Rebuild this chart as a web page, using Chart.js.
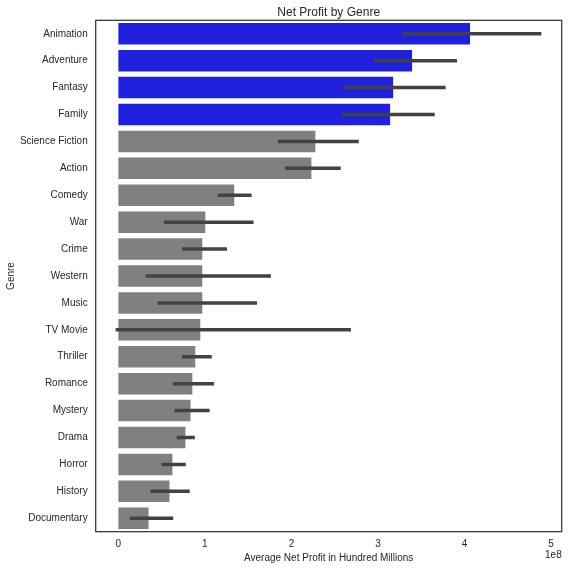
<!DOCTYPE html>
<html>
<head>
<meta charset="utf-8">
<script src="https://cdn.jsdelivr.net/npm/chart.js@4.4.1/dist/chart.umd.min.js"></script>
<style>
  html, body { margin: 0; padding: 0; background: #fff; }
  #wrap { width: 568px; height: 568px; }
</style>
</head>
<body>
<div id="wrap"><canvas id="chart" width="568" height="568"></canvas></div>
<script>
const genres = [
  "Animation", "Adventure", "Fantasy", "Family", "Science Fiction", "Action",
  "Comedy", "War", "Crime", "Western", "Music", "TV Movie", "Thriller",
  "Romance", "Mystery", "Drama", "Horror", "History", "Documentary",
];
// average net profit per genre
const avgProfit = [
  406500000, 339500000, 317600000, 314100000, 227700000, 223100000,
  133900000, 100500000, 97000000, 97000000, 97000000, 94700000, 88900000,
  85500000, 83400000, 77500000, 62500000, 59100000, 34900000,
];
// confidence interval ends
const ciLow = [
  327900000, 295600000, 260700000, 258300000, 184800000, 192900000,
  115200000, 53100000, 73900000, 32000000, 45700000, -2800000, 73900000,
  63300000, 65400000, 67900000, 50300000, 37700000, 13500000,
];
const ciHigh = [
  488500000, 391000000, 377900000, 365300000, 277500000, 256600000,
  153600000, 155900000, 125200000, 175900000, 159900000, 268400000, 107600000,
  110200000, 105100000, 88000000, 77500000, 82100000, 63000000,
];
const highlighted = ["Animation", "Adventure", "Fantasy", "Family"];
const xTicks = [0, 1, 2, 3, 4, 5];

const ink = "#262626";
const font = "'Liberation Sans', Arial, sans-serif";

const frame = {
  id: "frame",
  afterDatasetsDraw(chart) {
    const { ctx, chartArea: a } = chart;
    ctx.save();
    ctx.strokeStyle = "#333333";
    ctx.lineWidth = 1.25;
    ctx.strokeRect(a.left, a.top, a.right - a.left, a.bottom - a.top);
    ctx.restore();
  },
  afterDraw(chart) {
    const { ctx, chartArea: a } = chart;
    ctx.save();
    ctx.fillStyle = ink;
    ctx.font = `10px ${font}`;
    ctx.textAlign = "right";
    ctx.textBaseline = "middle";
    ctx.fillText("1e8", a.right, 555);
    ctx.restore();
  },
};

new Chart(document.getElementById("chart"), {
  type: "bar",
  data: {
    labels: genres,
    datasets: [
      {
        label: "ci",
        data: genres.map((g, i) => [ciLow[i], ciHigh[i]]),
        backgroundColor: "#424242",
        barThickness: 2.8,
        grouped: false,
      },
      {
        label: "Average Net Profit",
        data: avgProfit,
        backgroundColor: genres.map((g) => (highlighted.includes(g) ? "#2020df" : "#808080")),
        barPercentage: 0.8,
        categoryPercentage: 1,
        grouped: false,
      },
    ],
  },
  options: {
    indexAxis: "y",
    responsive: false,
    animation: false,
    layout: { padding: { left: 0, right: 6.3, top: 0, bottom: 0 } },
    plugins: {
      legend: { display: false },
      tooltip: { enabled: false },
      title: {
        display: true,
        text: "Net Profit by Genre",
        color: ink,
        fullSize: false,
        font: { family: font, size: 12, weight: "normal", lineHeight: 1.2 },
        padding: { top: 5, bottom: 0.9 },
      },
    },
    scales: {
      x: {
        min: -26200000,
        max: 512400000,
        afterBuildTicks: (scale) => {
          scale.ticks = xTicks.map((v) => ({ value: v * 1e8 }));
        },
        afterFit: (scale) => { scale.height = 36.3; },
        grid: { display: false, drawTicks: false },
        border: { display: false },
        ticks: {
          color: ink,
          padding: 7,
          maxRotation: 0,
          font: { family: font, size: 10 },
          callback: (v) => String(v / 1e8),
        },
        title: {
          display: true,
          text: "Average Net Profit in Hundred Millions",
          color: ink,
          font: { family: font, size: 10, lineHeight: 1.2 },
          padding: { top: 0, bottom: 4 },
        },
      },
      y: {
        afterFit: (scale) => { scale.width = 95.7; },
        grid: { display: false, drawTicks: false },
        border: { display: false },
        ticks: {
          color: ink,
          padding: 8,
          autoSkip: false,
          font: { family: font, size: 10 },
        },
        title: {
          display: true,
          text: "Genre",
          color: ink,
          font: { family: font, size: 10, lineHeight: 1.2 },
          padding: { top: 5, bottom: 0 },
        },
      },
    },
  },
  plugins: [frame],
});
</script>
</body>
</html>
